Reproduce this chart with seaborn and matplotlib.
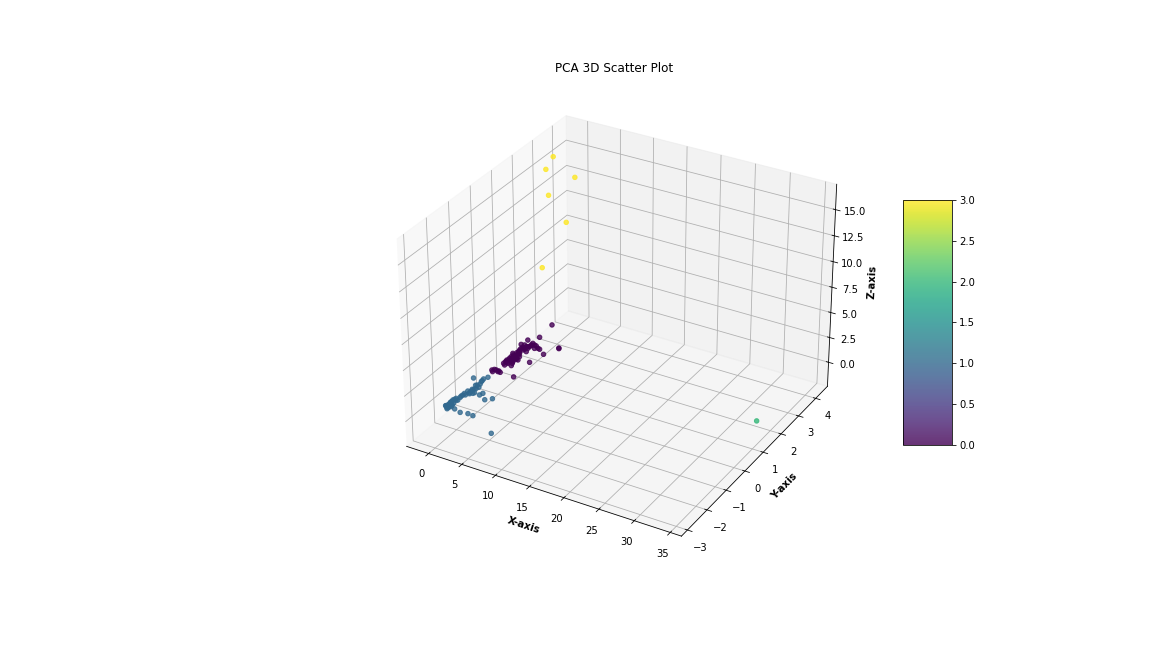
import numpy as np
import matplotlib
matplotlib.use("Agg")
import matplotlib.pyplot as plt
import seaborn as sns

# principal components per cluster
x0 = [1.41, 1.68, 0.71, 5.32, 4.42, 3.91, 4.05, 2.29, 2.47, 1.73, 1.8, 1.01, 0.54, 1.5, 1.27, 1.42, 0.81, 1.11,
      1.11, 1.6, 1.94, 2.28, 2.02, 2.1, 2.98, 1.68, 1.54, 1.45, 1.84, 1.59, 0.9, 0.7, 1.61, 2.15, 1.77, 1.43,
      1.06, 1.1, 1.18, 1.36, 1.08, 1.26, 1.04, 1.87, 2.09, 1.11, 1.57, 1.39, 2.6, 3.3, 1.18, 1.94, 0.99, 5.41,
      1.3, 1.6, 1.9, 1.2, 1.5, 1.7, 1.1, 1.3, 1.5, 1.2, 1.4, 1.8, 2.0, 1.6]
y0 = [2.29, 1.57, 1.29, 1.35, 0.87, 0.34, -0.49, -0.04, 1.14, 1.21, 1.02, 1.03, 1.01, 0.79, 0.66, 0.48, 0.51, 0.25,
      0.05, 0.01, 0.15, 0.29, 0.45, 0.76, 1.06, 0.32, 0.16, -0.1, 0.93, -0.47, -0.42, -0.48, -0.43, 1.16, 1.12, 0.98,
      0.89, 0.78, 0.59, 0.42, 0.34, 0.17, 0.14, 0.34, 0.07, -0.04, 0.6, 0.87, 1.01, 1.04, -0.42, -0.47, -0.54, 1.32,
      0.9, 1.0, 1.1, 0.7, 0.6, 0.5, 0.45, 0.35, 0.25, 0.1, 0.05, 0.2, 0.3, 0.85]
x1 = [-1.66, -0.14, -0.4, -0.3, -0.45, 0.19, -0.29, -0.55, -0.14, 0.42, 1.44, 1.28, 2.49, 3.21, -0.57, -0.56, -0.87,
      -1.02, -0.96, -0.91, -0.32, 0.36, 1.42, 2.44, 3.25, 7.5, -0.5, -0.5, -0.89, -0.46, -0.89, -0.98, -0.92, -0.62,
      -0.61, -0.18, 0.32, 0.03, -0.33, -0.1, -0.31, -1.08, -0.52, -0.43,
      -1.0, -0.7, -0.7, -0.9, -0.5, -0.6, -0.3, 0.0, -0.1]
y1 = [-0.64, -0.42, -0.55, -0.69, -0.92, -0.96, -1.13, -1.26, -1.3, -1.24, -1.16, -1.27, -1.4, -1.26, -1.49, -1.62,
      -1.71, -1.82, -1.96, -2.09, -2.11, -2.16, -2.23, -2.18, -2.2, -2.67, -1.95, -2.13, -2.14, -1.76, -2.05, -1.91,
      -1.77, -1.55, -1.4, -1.21, -1.29, -1.04, -0.64, -0.81, -0.89, -2.14, -2.19, -2.03,
      -2.15, -2.2, -2.0, -1.95, -2.25, -1.8, -1.45, -1.35, -1.1]
x2 = [35.02]
y2 = [1.19]
z2 = [0.0]
x3 = [-0.21, -1.36, 3.06, -1.01, 1.66, -2.18]
y3 = [3.0, 3.0, 3.0, 3.0, 3.0, 3.0]
z3 = [16.32, 14.9, 14.87, 12.43, 10.23, 5.0]

z0 = [1.0] * len(x0)
z1 = [0.0] * len(x1)

xs = np.array(x0 + x1 + x2 + x3)
ys = np.array(y0 + y1 + y2 + y3)
zs = np.array(z0 + z1 + z2 + z3)
labels = np.array([0] * len(x0) + [1] * len(x1) + [2] * len(x2) + [3] * len(x3))

fig = plt.figure(figsize=(16, 9), dpi=72)
fig.subplots_adjust(left=0.128, bottom=0.125)
ax = fig.add_subplot(projection="3d")

cmap = sns.color_palette("viridis", as_cmap=True)
sc = ax.scatter(xs, ys, zs, c=labels, cmap=cmap, alpha=0.8)

ax.set_xlim(-3.35, 36.55)
ax.set_ylim(-3.3, 4.7)
ax.set_zlim(-2.45, 17.4)
ax.set_title("PCA 3D Scatter Plot")
ax.set_xlabel("X-axis", fontweight="bold")
ax.set_ylabel("Y-axis", fontweight="bold")
ax.set_zlabel("Z-axis", fontweight="bold")
fig.colorbar(sc, ax=ax, shrink=0.5, aspect=5)

fig.savefig("out.png", dpi=72)
